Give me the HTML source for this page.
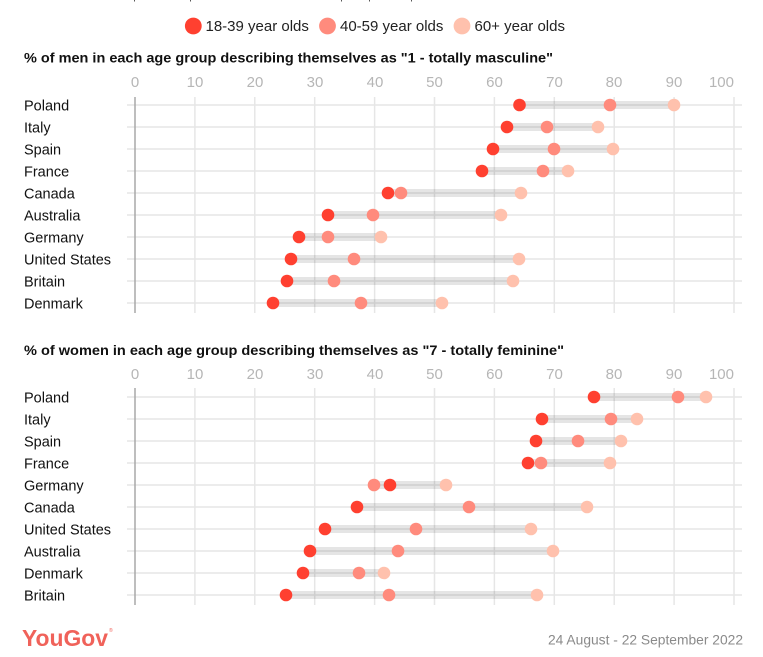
<!DOCTYPE html>
<html><head><meta charset="utf-8"><style>
html,body{margin:0;padding:0;background:#fff;}
svg{display:block;}
text{font-family:"Liberation Sans",Arial,sans-serif;}
.t{font-size:15px;fill:#b6b6b6;text-anchor:middle;}
.c{font-size:14.5px;fill:#111;}
.g{stroke:#e6e6e6;stroke-width:1.5;}
.z{stroke:#a8a8a8;stroke-width:1.5;}
.b{fill:#000;fill-opacity:0.1;}
.r1{fill:#ff4030;}
.r2{fill:#ff8b7d;}
.r3{fill:#ffc1ad;}
</style></head><body>
<svg width="763" height="657" viewBox="0 0 763 657" xmlns="http://www.w3.org/2000/svg">
<!-- clipped descenders from text above -->
<g fill="#555">
<rect x="134" y="0" width="1" height="1.5"/>
<rect x="190" y="0" width="1" height="1.5"/>
<rect x="341" y="0" width="1" height="1.5"/>
<rect x="369" y="0" width="1" height="1.5"/>
<rect x="411" y="0" width="1" height="1.5"/>
</g>
<!-- legend -->
<circle cx="193.3" cy="26" r="8.4" class="r1"/>
<text x="205.5" y="31" font-size="15" fill="#222">18-39 year olds</text>
<circle cx="327.5" cy="26" r="8.4" class="r2"/>
<text x="340" y="31" font-size="15" fill="#222">40-59 year olds</text>
<circle cx="462" cy="26" r="8.4" class="r3"/>
<text x="474.5" y="31" font-size="15" fill="#222">60+ year olds</text>

<!-- Chart 1 -->
<text x="24" y="62.5" font-size="14" font-weight="bold" fill="#111" textLength="529" lengthAdjust="spacingAndGlyphs">% of men in each age group describing themselves as "1 - totally masculine"</text>
<g>
<text class="t" x="135" y="87">0</text>
<text class="t" x="195" y="87">10</text>
<text class="t" x="255" y="87">20</text>
<text class="t" x="315" y="87">30</text>
<text class="t" x="375" y="87">40</text>
<text class="t" x="434.5" y="87">50</text>
<text class="t" x="494.5" y="87">60</text>
<text class="t" x="554.5" y="87">70</text>
<text class="t" x="614" y="87">80</text>
<text class="t" x="674" y="87">90</text>
<text class="t" x="734" y="87" style="text-anchor:end">100</text>
</g>
<g>
<line class="g" x1="127" x2="742" y1="105" y2="105"/>
<line class="g" x1="127" x2="742" y1="127" y2="127"/>
<line class="g" x1="127" x2="742" y1="149" y2="149"/>
<line class="g" x1="127" x2="742" y1="171" y2="171"/>
<line class="g" x1="127" x2="742" y1="193" y2="193"/>
<line class="g" x1="127" x2="742" y1="215" y2="215"/>
<line class="g" x1="127" x2="742" y1="237" y2="237"/>
<line class="g" x1="127" x2="742" y1="259" y2="259"/>
<line class="g" x1="127" x2="742" y1="281" y2="281"/>
<line class="g" x1="127" x2="742" y1="303" y2="303"/>
<line class="g" x1="194.9" x2="194.9" y1="97" y2="313"/>
<line class="g" x1="254.8" x2="254.8" y1="97" y2="313"/>
<line class="g" x1="314.7" x2="314.7" y1="97" y2="313"/>
<line class="g" x1="374.6" x2="374.6" y1="97" y2="313"/>
<line class="g" x1="434.5" x2="434.5" y1="97" y2="313"/>
<line class="g" x1="494.4" x2="494.4" y1="97" y2="313"/>
<line class="g" x1="554.3" x2="554.3" y1="97" y2="313"/>
<line class="g" x1="614.2" x2="614.2" y1="97" y2="313"/>
<line class="g" x1="674.1" x2="674.1" y1="97" y2="313"/>
<line class="g" x1="734" x2="734" y1="97" y2="313"/>
<line class="z" x1="135" x2="135" y1="97" y2="313"/>
</g>
<g>
<text class="c" x="24" y="110.5">Poland</text>
<text class="c" x="24" y="132.5">Italy</text>
<text class="c" x="24" y="154.5">Spain</text>
<text class="c" x="24" y="176.5">France</text>
<text class="c" x="24" y="198.5">Canada</text>
<text class="c" x="24" y="220.5">Australia</text>
<text class="c" x="24" y="242.5">Germany</text>
<text class="c" x="24" y="264.5">United States</text>
<text class="c" x="24" y="286.5">Britain</text>
<text class="c" x="24" y="308.5">Denmark</text>
</g>
<g>
<rect class="b" x="519.5" y="101" width="154.5" height="8"/>
<rect class="b" x="507" y="123" width="91" height="8"/>
<rect class="b" x="493" y="145" width="120" height="8"/>
<rect class="b" x="482" y="167" width="86" height="8"/>
<rect class="b" x="388" y="189" width="133" height="8"/>
<rect class="b" x="328" y="211" width="173" height="8"/>
<rect class="b" x="299" y="233" width="82" height="8"/>
<rect class="b" x="291" y="255" width="228" height="8"/>
<rect class="b" x="287" y="277" width="226" height="8"/>
<rect class="b" x="273" y="299" width="169" height="8"/>
</g>
<g>
<circle class="r3" cx="674" cy="105" r="6.3"/><circle class="r2" cx="610" cy="105" r="6.3"/><circle class="r1" cx="519.5" cy="105" r="6.3"/>
<circle class="r3" cx="598" cy="127" r="6.3"/><circle class="r2" cx="547" cy="127" r="6.3"/><circle class="r1" cx="507" cy="127" r="6.3"/>
<circle class="r3" cx="613" cy="149" r="6.3"/><circle class="r2" cx="554" cy="149" r="6.3"/><circle class="r1" cx="493" cy="149" r="6.3"/>
<circle class="r3" cx="568" cy="171" r="6.3"/><circle class="r2" cx="543" cy="171" r="6.3"/><circle class="r1" cx="482" cy="171" r="6.3"/>
<circle class="r3" cx="521" cy="193" r="6.3"/><circle class="r2" cx="401" cy="193" r="6.3"/><circle class="r1" cx="388" cy="193" r="6.3"/>
<circle class="r3" cx="501" cy="215" r="6.3"/><circle class="r2" cx="373" cy="215" r="6.3"/><circle class="r1" cx="328" cy="215" r="6.3"/>
<circle class="r3" cx="381" cy="237" r="6.3"/><circle class="r2" cx="328" cy="237" r="6.3"/><circle class="r1" cx="299" cy="237" r="6.3"/>
<circle class="r3" cx="519" cy="259" r="6.3"/><circle class="r2" cx="354" cy="259" r="6.3"/><circle class="r1" cx="291" cy="259" r="6.3"/>
<circle class="r3" cx="513" cy="281" r="6.3"/><circle class="r2" cx="334" cy="281" r="6.3"/><circle class="r1" cx="287" cy="281" r="6.3"/>
<circle class="r3" cx="442" cy="303" r="6.3"/><circle class="r2" cx="361" cy="303" r="6.3"/><circle class="r1" cx="273" cy="303" r="6.3"/>
</g>

<!-- Chart 2 -->
<text x="24" y="355" font-size="14" font-weight="bold" fill="#111" textLength="540" lengthAdjust="spacingAndGlyphs">% of women in each age group describing themselves as "7 - totally feminine"</text>
<g>
<text class="t" x="135" y="379">0</text>
<text class="t" x="195" y="379">10</text>
<text class="t" x="255" y="379">20</text>
<text class="t" x="315" y="379">30</text>
<text class="t" x="375" y="379">40</text>
<text class="t" x="434.5" y="379">50</text>
<text class="t" x="494.5" y="379">60</text>
<text class="t" x="554.5" y="379">70</text>
<text class="t" x="614" y="379">80</text>
<text class="t" x="674" y="379">90</text>
<text class="t" x="734" y="379" style="text-anchor:end">100</text>
</g>
<g>
<line class="g" x1="127" x2="742" y1="397" y2="397"/>
<line class="g" x1="127" x2="742" y1="419" y2="419"/>
<line class="g" x1="127" x2="742" y1="441" y2="441"/>
<line class="g" x1="127" x2="742" y1="463" y2="463"/>
<line class="g" x1="127" x2="742" y1="485" y2="485"/>
<line class="g" x1="127" x2="742" y1="507" y2="507"/>
<line class="g" x1="127" x2="742" y1="529" y2="529"/>
<line class="g" x1="127" x2="742" y1="551" y2="551"/>
<line class="g" x1="127" x2="742" y1="573" y2="573"/>
<line class="g" x1="127" x2="742" y1="595" y2="595"/>
<line class="g" x1="194.9" x2="194.9" y1="388" y2="605"/>
<line class="g" x1="254.8" x2="254.8" y1="388" y2="605"/>
<line class="g" x1="314.7" x2="314.7" y1="388" y2="605"/>
<line class="g" x1="374.6" x2="374.6" y1="388" y2="605"/>
<line class="g" x1="434.5" x2="434.5" y1="388" y2="605"/>
<line class="g" x1="494.4" x2="494.4" y1="388" y2="605"/>
<line class="g" x1="554.3" x2="554.3" y1="388" y2="605"/>
<line class="g" x1="614.2" x2="614.2" y1="388" y2="605"/>
<line class="g" x1="674.1" x2="674.1" y1="388" y2="605"/>
<line class="g" x1="734" x2="734" y1="388" y2="605"/>
<line class="z" x1="135" x2="135" y1="388" y2="605"/>
</g>
<g>
<text class="c" x="24" y="402.5">Poland</text>
<text class="c" x="24" y="424.5">Italy</text>
<text class="c" x="24" y="446.5">Spain</text>
<text class="c" x="24" y="468.5">France</text>
<text class="c" x="24" y="490.5">Germany</text>
<text class="c" x="24" y="512.5">Canada</text>
<text class="c" x="24" y="534.5">United States</text>
<text class="c" x="24" y="556.5">Australia</text>
<text class="c" x="24" y="578.5">Denmark</text>
<text class="c" x="24" y="600.5">Britain</text>
</g>
<g>
<rect class="b" x="594" y="393" width="112" height="8"/>
<rect class="b" x="542" y="415" width="95" height="8"/>
<rect class="b" x="536" y="437" width="85" height="8"/>
<rect class="b" x="528" y="459" width="82" height="8"/>
<rect class="b" x="374" y="481" width="72" height="8"/>
<rect class="b" x="357" y="503" width="230" height="8"/>
<rect class="b" x="325" y="525" width="206" height="8"/>
<rect class="b" x="310" y="547" width="243" height="8"/>
<rect class="b" x="303" y="569" width="81" height="8"/>
<rect class="b" x="286" y="591" width="251" height="8"/>
</g>
<g>
<circle class="r3" cx="706" cy="397" r="6.3"/><circle class="r2" cx="678" cy="397" r="6.3"/><circle class="r1" cx="594" cy="397" r="6.3"/>
<circle class="r3" cx="637" cy="419" r="6.3"/><circle class="r2" cx="611" cy="419" r="6.3"/><circle class="r1" cx="542" cy="419" r="6.3"/>
<circle class="r3" cx="621" cy="441" r="6.3"/><circle class="r2" cx="578" cy="441" r="6.3"/><circle class="r1" cx="536" cy="441" r="6.3"/>
<circle class="r3" cx="610" cy="463" r="6.3"/><circle class="r2" cx="541" cy="463" r="6.3"/><circle class="r1" cx="528" cy="463" r="6.3"/>
<circle class="r3" cx="446" cy="485" r="6.3"/><circle class="r2" cx="374" cy="485" r="6.3"/><circle class="r1" cx="390" cy="485" r="6.3"/>
<circle class="r3" cx="587" cy="507" r="6.3"/><circle class="r2" cx="469" cy="507" r="6.3"/><circle class="r1" cx="357" cy="507" r="6.3"/>
<circle class="r3" cx="531" cy="529" r="6.3"/><circle class="r2" cx="416" cy="529" r="6.3"/><circle class="r1" cx="325" cy="529" r="6.3"/>
<circle class="r3" cx="553" cy="551" r="6.3"/><circle class="r2" cx="398" cy="551" r="6.3"/><circle class="r1" cx="310" cy="551" r="6.3"/>
<circle class="r3" cx="384" cy="573" r="6.3"/><circle class="r2" cx="359" cy="573" r="6.3"/><circle class="r1" cx="303" cy="573" r="6.3"/>
<circle class="r3" cx="537" cy="595" r="6.3"/><circle class="r2" cx="389" cy="595" r="6.3"/><circle class="r1" cx="286" cy="595" r="6.3"/>
</g>

<!-- footer -->
<text x="22" y="646" font-size="23" font-weight="bold" fill="#f0625a" textLength="86" lengthAdjust="spacingAndGlyphs">YouGov</text>
<text x="109" y="632" font-size="5" fill="#f0625a">®</text>
<text x="743" y="644.5" font-size="14" fill="#8a8a8a" text-anchor="end" textLength="195" lengthAdjust="spacingAndGlyphs">24 August - 22 September 2022</text>
</svg>
</body></html>
